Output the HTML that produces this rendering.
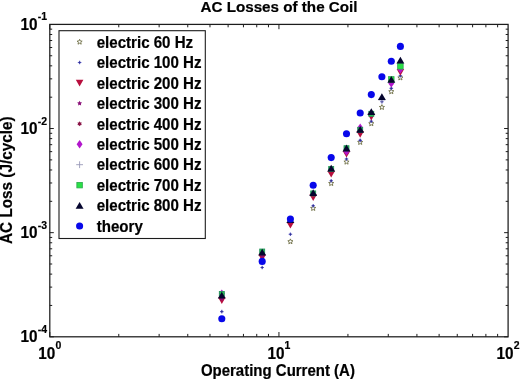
<!DOCTYPE html>
<html><head><meta charset="utf-8"><title>AC Losses of the Coil</title>
<style>
html,body{margin:0;padding:0;background:#fff;}
svg{display:block}
text{font-family:'Liberation Sans', sans-serif;font-weight:bold;fill:#000;stroke:#000;stroke-width:0.2px}
.t{font-size:15.3px}
.s{font-size:10.5px}
.l{font-size:15.1px}
.ti{font-size:15.2px}
.xl{font-size:15px}
</style></head><body>
<svg width="520" height="380" viewBox="0 0 520 380">
<rect x="0" y="0" width="520" height="380" fill="#fff"/>

<rect x="49.8" y="24.4" width="458.3" height="312.40000000000003" fill="none" stroke="#1c1c1c" stroke-width="1.25"/>
<path d="M49.80 336.8v-4.8M49.80 24.4v4.8M118.78 336.8v-2.9M118.78 24.4v2.9M159.13 336.8v-2.9M159.13 24.4v2.9M187.76 336.8v-2.9M187.76 24.4v2.9M209.97 336.8v-2.9M209.97 24.4v2.9M228.11 336.8v-2.9M228.11 24.4v2.9M243.45 336.8v-2.9M243.45 24.4v2.9M256.74 336.8v-2.9M256.74 24.4v2.9M268.46 336.8v-2.9M268.46 24.4v2.9M278.95 336.8v-4.8M278.95 24.4v4.8M347.93 336.8v-2.9M347.93 24.4v2.9M388.28 336.8v-2.9M388.28 24.4v2.9M416.91 336.8v-2.9M416.91 24.4v2.9M439.12 336.8v-2.9M439.12 24.4v2.9M457.26 336.8v-2.9M457.26 24.4v2.9M472.60 336.8v-2.9M472.60 24.4v2.9M485.89 336.8v-2.9M485.89 24.4v2.9M497.61 336.8v-2.9M497.61 24.4v2.9M49.8 336.80h4.0M508.1 336.80h-4.0M49.8 305.45h2.4M508.1 305.45h-2.4M49.8 287.12h2.4M508.1 287.12h-2.4M49.8 274.11h2.4M508.1 274.11h-2.4M49.8 264.01h2.4M508.1 264.01h-2.4M49.8 255.77h2.4M508.1 255.77h-2.4M49.8 248.80h2.4M508.1 248.80h-2.4M49.8 242.76h2.4M508.1 242.76h-2.4M49.8 237.43h2.4M508.1 237.43h-2.4M49.8 232.67h4.0M508.1 232.67h-4.0M49.8 201.32h2.4M508.1 201.32h-2.4M49.8 182.98h2.4M508.1 182.98h-2.4M49.8 169.97h2.4M508.1 169.97h-2.4M49.8 159.88h2.4M508.1 159.88h-2.4M49.8 151.64h2.4M508.1 151.64h-2.4M49.8 144.66h2.4M508.1 144.66h-2.4M49.8 138.62h2.4M508.1 138.62h-2.4M49.8 133.30h2.4M508.1 133.30h-2.4M49.8 128.53h4.0M508.1 128.53h-4.0M49.8 97.19h2.4M508.1 97.19h-2.4M49.8 78.85h2.4M508.1 78.85h-2.4M49.8 65.84h2.4M508.1 65.84h-2.4M49.8 55.75h2.4M508.1 55.75h-2.4M49.8 47.50h2.4M508.1 47.50h-2.4M49.8 40.53h2.4M508.1 40.53h-2.4M49.8 34.49h2.4M508.1 34.49h-2.4M49.8 29.16h2.4M508.1 29.16h-2.4" stroke="#1c1c1c" stroke-width="1" fill="none"/>
<text class="ti" transform="translate(279.00 12.20) scale(1 1.02)" text-anchor="middle">AC Losses of the Coil</text>
<text class="xl" transform="translate(277.90 375.60) scale(1 1.05)" text-anchor="middle">Operating Current (A)</text>
<text class="t" transform="translate(12.30 180.20) rotate(-90) scale(1 1.05)" text-anchor="middle">AC Loss (J/cycle)</text>
<text class="t" transform="translate(46.80 358.50) scale(1 1.05)" text-anchor="middle">10</text>
<text class="s" transform="translate(55.40 348.70) scale(1 1.05)">0</text>
<text class="t" transform="translate(275.95 358.50) scale(1 1.05)" text-anchor="middle">10</text>
<text class="s" transform="translate(284.55 348.70) scale(1 1.05)">1</text>
<text class="t" transform="translate(505.10 358.50) scale(1 1.05)" text-anchor="middle">10</text>
<text class="s" transform="translate(513.70 348.70) scale(1 1.05)">2</text>
<text class="t" transform="translate(37.60 342.30) scale(1 1.05)" text-anchor="end">10</text>
<text class="s" transform="translate(37.70 332.80) scale(1 1.05)">-4</text>
<text class="t" transform="translate(37.60 238.17) scale(1 1.05)" text-anchor="end">10</text>
<text class="s" transform="translate(37.70 228.67) scale(1 1.05)">-3</text>
<text class="t" transform="translate(37.60 134.03) scale(1 1.05)" text-anchor="end">10</text>
<text class="s" transform="translate(37.70 124.53) scale(1 1.05)">-2</text>
<text class="t" transform="translate(37.60 29.90) scale(1 1.05)" text-anchor="end">10</text>
<text class="s" transform="translate(37.70 20.40) scale(1 1.05)">-1</text>
<g><polygon points="290.40,238.90 291.11,240.62 292.97,240.77 291.56,241.98 291.99,243.78 290.40,242.81 288.81,243.78 289.24,241.98 287.83,240.77 289.69,240.62" fill="none" stroke="#74744c" stroke-width="0.95"/><polygon points="313.20,205.60 313.91,207.32 315.77,207.47 314.36,208.68 314.79,210.48 313.20,209.52 311.61,210.48 312.04,208.68 310.63,207.47 312.49,207.32" fill="none" stroke="#74744c" stroke-width="0.95"/><polygon points="331.20,180.70 331.91,182.42 333.77,182.57 332.36,183.78 332.79,185.58 331.20,184.62 329.61,185.58 330.04,183.78 328.63,182.57 330.49,182.42" fill="none" stroke="#74744c" stroke-width="0.95"/><polygon points="346.50,159.30 347.21,161.02 349.07,161.17 347.66,162.38 348.09,164.18 346.50,163.22 344.91,164.18 345.34,162.38 343.93,161.17 345.79,161.02" fill="none" stroke="#74744c" stroke-width="0.95"/><polygon points="360.20,139.60 360.91,141.32 362.77,141.47 361.36,142.68 361.79,144.48 360.20,143.52 358.61,144.48 359.04,142.68 357.63,141.47 359.49,141.32" fill="none" stroke="#74744c" stroke-width="0.95"/><polygon points="371.30,120.90 372.01,122.62 373.87,122.77 372.46,123.98 372.89,125.78 371.30,124.81 369.71,125.78 370.14,123.98 368.73,122.77 370.59,122.62" fill="none" stroke="#74744c" stroke-width="0.95"/><polygon points="381.90,104.60 382.61,106.32 384.47,106.47 383.06,107.68 383.49,109.48 381.90,108.52 380.31,109.48 380.74,107.68 379.33,106.47 381.19,106.32" fill="none" stroke="#74744c" stroke-width="0.95"/><polygon points="391.30,88.90 392.01,90.62 393.87,90.77 392.46,91.98 392.89,93.78 391.30,92.81 389.71,93.78 390.14,91.98 388.73,90.77 390.59,90.62" fill="none" stroke="#74744c" stroke-width="0.95"/><polygon points="400.40,75.10 401.11,76.82 402.97,76.97 401.56,78.18 401.99,79.98 400.40,79.02 398.81,79.98 399.24,78.18 397.83,76.97 399.69,76.82" fill="none" stroke="#74744c" stroke-width="0.95"/></g>
<g><path d="M220.00 311.60h3.6M221.80 309.80v3.6" stroke="#6464d8" stroke-width="1.1" fill="none"/><circle cx="221.80" cy="311.60" r="1.05" fill="#34348c"/><path d="M260.40 267.50h3.6M262.20 265.70v3.6" stroke="#6464d8" stroke-width="1.1" fill="none"/><circle cx="262.20" cy="267.50" r="1.05" fill="#34348c"/><path d="M288.60 234.20h3.6M290.40 232.40v3.6" stroke="#6464d8" stroke-width="1.1" fill="none"/><circle cx="290.40" cy="234.20" r="1.05" fill="#34348c"/><path d="M311.40 205.80h3.6M313.20 204.00v3.6" stroke="#6464d8" stroke-width="1.1" fill="none"/><circle cx="313.20" cy="205.80" r="1.05" fill="#34348c"/><path d="M329.40 180.80h3.6M331.20 179.00v3.6" stroke="#6464d8" stroke-width="1.1" fill="none"/><circle cx="331.20" cy="180.80" r="1.05" fill="#34348c"/><path d="M344.70 159.00h3.6M346.50 157.20v3.6" stroke="#6464d8" stroke-width="1.1" fill="none"/><circle cx="346.50" cy="159.00" r="1.05" fill="#34348c"/><path d="M358.40 140.40h3.6M360.20 138.60v3.6" stroke="#6464d8" stroke-width="1.1" fill="none"/><circle cx="360.20" cy="140.40" r="1.05" fill="#34348c"/><path d="M369.50 121.20h3.6M371.30 119.40v3.6" stroke="#6464d8" stroke-width="1.1" fill="none"/><circle cx="371.30" cy="121.20" r="1.05" fill="#34348c"/><path d="M380.10 101.80h3.6M381.90 100.00v3.6" stroke="#6464d8" stroke-width="1.1" fill="none"/><circle cx="381.90" cy="101.80" r="1.05" fill="#34348c"/><path d="M389.50 88.40h3.6M391.30 86.60v3.6" stroke="#6464d8" stroke-width="1.1" fill="none"/><circle cx="391.30" cy="88.40" r="1.05" fill="#34348c"/><path d="M398.60 75.80h3.6M400.40 74.00v3.6" stroke="#6464d8" stroke-width="1.1" fill="none"/><circle cx="400.40" cy="75.80" r="1.05" fill="#34348c"/></g>
<g><polygon points="218.00,297.20 225.60,297.20 221.80,303.90" fill="#b80f3e"/><polygon points="258.40,254.50 266.00,254.50 262.20,261.20" fill="#b80f3e"/><polygon points="286.60,221.90 294.20,221.90 290.40,228.60" fill="#b80f3e"/><polygon points="309.40,194.20 317.00,194.20 313.20,200.90" fill="#b80f3e"/><polygon points="327.40,170.90 335.00,170.90 331.20,177.60" fill="#b80f3e"/><polygon points="342.70,150.90 350.30,150.90 346.50,157.60" fill="#b80f3e"/><polygon points="356.40,131.10 364.00,131.10 360.20,137.80" fill="#b80f3e"/><polygon points="367.50,113.70 375.10,113.70 371.30,120.40" fill="#b80f3e"/><polygon points="396.60,69.00 404.20,69.00 400.40,75.70" fill="#b80f3e"/></g>
<g><polygon points="221.80,296.00 222.56,297.55 224.27,297.80 223.04,299.00 223.33,300.70 221.80,299.90 220.27,300.70 220.56,299.00 219.33,297.80 221.04,297.55" fill="#8a1078"/><polygon points="262.20,252.70 262.96,254.25 264.67,254.50 263.44,255.70 263.73,257.40 262.20,256.60 260.67,257.40 260.96,255.70 259.73,254.50 261.44,254.25" fill="#8a1078"/></g>
<g></g>
<g><polygon points="221.80,289.40 224.75,293.60 221.80,297.80 218.85,293.60" fill="#b216cc"/><polygon points="346.50,147.40 349.45,151.60 346.50,155.80 343.55,151.60" fill="#b216cc"/><polygon points="360.20,123.50 363.15,127.70 360.20,131.90 357.25,127.70" fill="#b216cc"/><polygon points="391.30,79.20 394.25,83.40 391.30,87.60 388.35,83.40" fill="#b216cc"/><polygon points="400.40,65.10 403.35,69.30 400.40,73.50 397.45,69.30" fill="#b216cc"/></g>
<g><path d="M378.50 100.00h6.8M381.90 96.60v6.8" stroke="#9898b8" stroke-width="0.9" fill="none"/></g>
<g><rect x="219.30" y="291.50" width="5.0" height="5.0" fill="#27c255" stroke="#22905a" stroke-width="0.8"/><rect x="259.70" y="249.00" width="5.0" height="5.0" fill="#27c255" stroke="#22905a" stroke-width="0.8"/><rect x="310.70" y="190.90" width="5.0" height="5.0" fill="#27c255" stroke="#22905a" stroke-width="0.8"/><rect x="328.70" y="166.40" width="5.0" height="5.0" fill="#27c255" stroke="#22905a" stroke-width="0.8"/><rect x="344.00" y="145.70" width="5.0" height="5.0" fill="#27c255" stroke="#22905a" stroke-width="0.8"/><rect x="357.70" y="127.30" width="5.0" height="5.0" fill="#27c255" stroke="#22905a" stroke-width="0.8"/><rect x="368.80" y="111.30" width="5.0" height="5.0" fill="#27c255" stroke="#22905a" stroke-width="0.8"/><rect x="388.55" y="76.65" width="5.5" height="5.5" fill="#2ae046" stroke="#2aa84c" stroke-width="0.8"/><rect x="397.65" y="63.55" width="5.5" height="5.5" fill="#2ae046" stroke="#2aa84c" stroke-width="0.8"/></g>
<g><polygon points="217.85,298.50 225.75,298.50 221.80,291.70" fill="#05052e"/><polygon points="258.25,255.60 266.15,255.60 262.20,248.80" fill="#05052e"/><polygon points="286.45,223.10 294.35,223.10 290.40,216.30" fill="#05052e"/><polygon points="309.25,196.10 317.15,196.10 313.20,189.30" fill="#05052e"/><polygon points="327.25,171.60 335.15,171.60 331.20,164.80" fill="#05052e"/><polygon points="342.55,151.40 350.45,151.40 346.50,144.60" fill="#05052e"/><polygon points="356.25,132.70 364.15,132.70 360.20,125.90" fill="#05052e"/><polygon points="367.35,115.10 375.25,115.10 371.30,108.30" fill="#05052e"/><polygon points="377.95,100.10 385.85,100.10 381.90,93.30" fill="#05052e"/><polygon points="387.35,82.70 395.25,82.70 391.30,75.90" fill="#05052e"/><polygon points="396.45,63.60 404.35,63.60 400.40,56.80" fill="#05052e"/></g>
<g><circle cx="221.80" cy="318.80" r="3.55" fill="#0808ea"/><circle cx="262.20" cy="261.40" r="3.55" fill="#0808ea"/><circle cx="290.40" cy="219.00" r="3.55" fill="#0808ea"/><circle cx="313.20" cy="185.30" r="3.55" fill="#0808ea"/><circle cx="331.20" cy="157.60" r="3.55" fill="#0808ea"/><circle cx="346.50" cy="133.70" r="3.55" fill="#0808ea"/><circle cx="360.20" cy="113.00" r="3.55" fill="#0808ea"/><circle cx="371.30" cy="94.60" r="3.55" fill="#0808ea"/><circle cx="381.90" cy="76.80" r="3.55" fill="#0808ea"/><circle cx="391.30" cy="61.20" r="3.55" fill="#0808ea"/><circle cx="400.40" cy="46.40" r="3.55" fill="#0808ea"/></g>
<rect x="59.0" y="30.7" width="146.3" height="207.8" fill="#fff" stroke="#1c1c1c" stroke-width="1.1"/>
<polygon points="79.60,39.30 80.31,41.02 82.17,41.17 80.76,42.38 81.19,44.18 79.60,43.22 78.01,44.18 78.44,42.38 77.03,41.17 78.89,41.02" fill="none" stroke="#74744c" stroke-width="0.95"/>
<text class="l" transform="translate(96.70 48.00) scale(1 1.05)">electric 60 Hz</text>
<path d="M77.80 62.45h3.6M79.60 60.65v3.6" stroke="#6464d8" stroke-width="1.1" fill="none"/><circle cx="79.60" cy="62.45" r="1.05" fill="#34348c"/>
<text class="l" transform="translate(96.70 68.40) scale(1 1.05)">electric 100 Hz</text>
<polygon points="75.80,79.80 83.40,79.80 79.60,86.50" fill="#b80f3e"/>
<text class="l" transform="translate(96.70 88.80) scale(1 1.05)">electric 200 Hz</text>
<polygon points="79.60,100.75 80.36,102.30 82.07,102.55 80.84,103.75 81.13,105.45 79.60,104.65 78.07,105.45 78.36,103.75 77.13,102.55 78.84,102.30" fill="#8a1078"/>
<text class="l" transform="translate(96.70 109.20) scale(1 1.05)">electric 300 Hz</text>
<polygon points="79.60,121.30 80.38,122.46 81.77,122.55 81.15,123.80 81.77,125.05 80.38,125.14 79.60,126.30 78.82,125.14 77.43,125.05 78.05,123.80 77.43,122.55 78.82,122.46" fill="#8a1446"/>
<text class="l" transform="translate(96.70 129.60) scale(1 1.05)">electric 400 Hz</text>
<polygon points="79.60,140.05 82.55,144.25 79.60,148.45 76.65,144.25" fill="#b216cc"/>
<text class="l" transform="translate(96.70 150.00) scale(1 1.05)">electric 500 Hz</text>
<path d="M76.20 164.70h6.8M79.60 161.30v6.8" stroke="#9898b8" stroke-width="0.9" fill="none"/>
<text class="l" transform="translate(96.70 170.40) scale(1 1.05)">electric 600 Hz</text>
<rect x="76.85" y="182.40" width="5.5" height="5.5" fill="#2ae046" stroke="#2aa84c" stroke-width="0.8"/>
<text class="l" transform="translate(96.70 190.80) scale(1 1.05)">electric 700 Hz</text>
<polygon points="75.65,208.70 83.55,208.70 79.60,201.90" fill="#05052e"/>
<text class="l" transform="translate(96.70 211.20) scale(1 1.05)">electric 800 Hz</text>
<circle cx="79.60" cy="226.05" r="3.55" fill="#0808ea"/>
<text class="l" transform="translate(96.70 231.60) scale(1 1.05)">theory</text>
</svg></body></html>
